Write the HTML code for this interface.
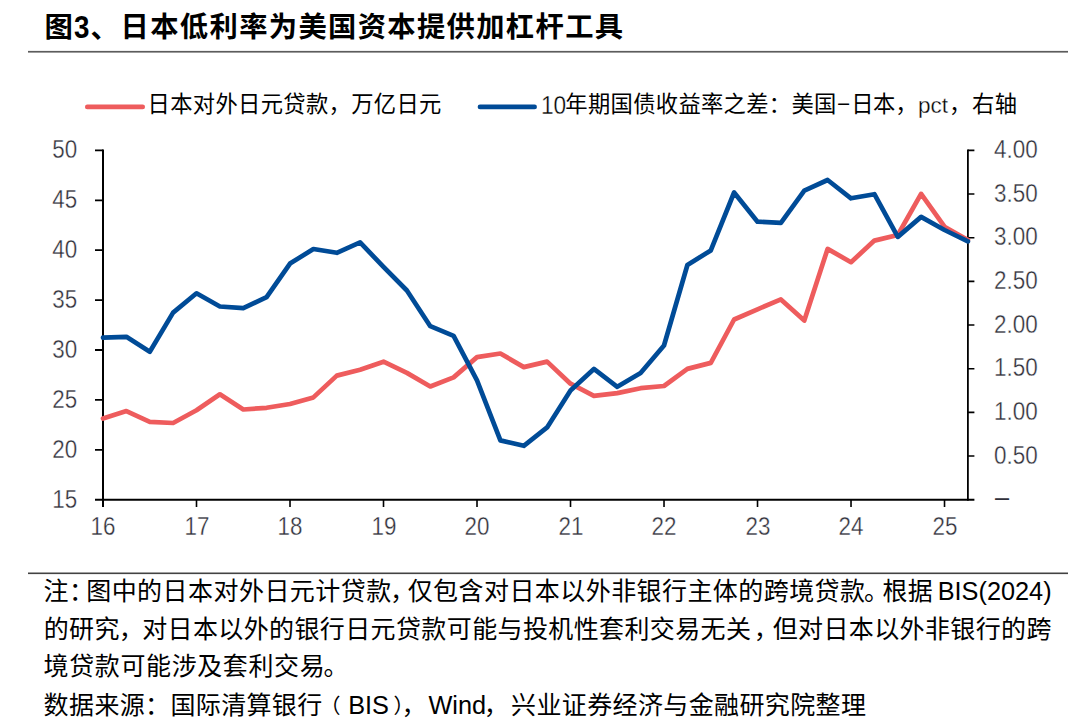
<!DOCTYPE html>
<html lang="zh-CN">
<head>
<meta charset="utf-8">
<title>图3、日本低利率为美国资本提供加杠杆工具</title>
<style>
html,body{margin:0;padding:0;background:#fff}
body{position:relative;width:1080px;height:727px;overflow:hidden;font-family:"Liberation Sans","Noto Sans CJK SC",sans-serif}
svg{position:absolute;left:0;top:0}
.t{position:absolute;white-space:nowrap;line-height:1;margin:0}
.g{color:#000;font-family:"Liberation Sans","Noto Sans CJK SC",sans-serif}
</style>
</head>
<body>
<svg width="1080" height="727" viewBox="0 0 1080 727">
<rect x="28" y="50.9" width="1040" height="1.7" fill="#5c5c5c"/>
<rect x="28" y="572.5" width="1040" height="1.6" fill="#424242"/>
<g stroke="#000" fill="none">
<path d="M103.0 149.4 V507.0" stroke-width="2"/>
<path d="M967.9 149.6 V500.7" stroke-width="1.8"/>
<path d="M95.0 499.7 H974.4" stroke-width="2"/>
<path d="M95.0 150.40H103.0M95.0 200.30H103.0M95.0 250.20H103.0M95.0 300.10H103.0M95.0 350.00H103.0M95.0 399.90H103.0M95.0 449.80H103.0" stroke-width="1.8"/>
<path d="M967.9 150.40H974.4M967.9 194.06H974.4M967.9 237.72H974.4M967.9 281.39H974.4M967.9 325.05H974.4M967.9 368.71H974.4M967.9 412.38H974.4M967.9 456.04H974.4" stroke-width="1.6"/>
<path d="M196.50 499.7V506.9M290.01 499.7V506.9M383.51 499.7V506.9M477.01 499.7V506.9M570.51 499.7V506.9M664.02 499.7V506.9M757.52 499.7V506.9M851.02 499.7V506.9M944.52 499.7V506.9" stroke-width="1.6"/>
</g>
<polyline points="103.0,418.5 126.4,411.1 149.8,421.9 173.1,423.0 196.5,410.3 219.9,394.3 243.3,409.5 266.6,407.8 290.0,404.0 313.4,397.4 336.8,375.6 360.1,369.8 383.5,361.7 406.9,372.9 430.3,386.5 453.6,377.4 477.0,357.1 500.4,353.5 523.8,367.1 547.1,361.6 570.5,383.7 593.9,395.9 617.3,393.1 640.6,388.2 664.0,386.0 687.4,368.9 710.8,362.9 734.1,319.5 757.5,309.3 780.9,299.4 804.3,320.6 827.6,248.9 851.0,262.2 874.4,240.6 897.8,235.0 921.1,193.9 944.5,226.7 967.9,240.0" fill="none" stroke="#ee5c5d" stroke-width="4.7" stroke-linejoin="round" stroke-linecap="round"/>
<polyline points="103.0,337.6 126.4,336.8 149.8,351.7 173.1,312.6 196.5,293.3 219.9,306.5 243.3,308.2 266.6,297.2 290.0,263.6 313.4,249.0 336.8,252.8 360.1,242.4 383.5,266.9 406.9,290.5 430.3,326.2 453.6,335.9 477.0,380.4 500.4,440.4 523.8,445.8 547.1,427.4 570.5,390.4 593.9,368.9 617.3,386.8 640.6,373.0 664.0,345.5 687.4,265.0 710.8,250.4 734.1,192.5 757.5,221.7 780.9,222.8 804.3,190.6 827.6,180.0 851.0,198.3 874.4,194.2 897.8,236.9 921.1,216.9 944.5,230.0 967.9,241.4" fill="none" stroke="#004b97" stroke-width="4.7" stroke-linejoin="round" stroke-linecap="round"/>
<path d="M87.3 106.9H142.7" stroke="#ee5c5d" stroke-width="4.7" stroke-linecap="round"/>
<path d="M480 106.9H534.6" stroke="#004b97" stroke-width="4.7" stroke-linecap="round"/>
</svg>
<!-- axis tick labels -->
<div class="t" style="top:137.48px;font-size:25.30px;color:#30303a;transform:scaleX(0.885);transform-origin:right center;right:1003.20px;-webkit-text-stroke:0.35px #fff;">50</div>
<div class="t" style="top:187.38px;font-size:25.30px;color:#30303a;transform:scaleX(0.885);transform-origin:right center;right:1003.20px;-webkit-text-stroke:0.35px #fff;">45</div>
<div class="t" style="top:237.28px;font-size:25.30px;color:#30303a;transform:scaleX(0.885);transform-origin:right center;right:1003.20px;-webkit-text-stroke:0.35px #fff;">40</div>
<div class="t" style="top:287.18px;font-size:25.30px;color:#30303a;transform:scaleX(0.885);transform-origin:right center;right:1003.20px;-webkit-text-stroke:0.35px #fff;">35</div>
<div class="t" style="top:337.08px;font-size:25.30px;color:#30303a;transform:scaleX(0.885);transform-origin:right center;right:1003.20px;-webkit-text-stroke:0.35px #fff;">30</div>
<div class="t" style="top:386.98px;font-size:25.30px;color:#30303a;transform:scaleX(0.885);transform-origin:right center;right:1003.20px;-webkit-text-stroke:0.35px #fff;">25</div>
<div class="t" style="top:436.88px;font-size:25.30px;color:#30303a;transform:scaleX(0.885);transform-origin:right center;right:1003.20px;-webkit-text-stroke:0.35px #fff;">20</div>
<div class="t" style="top:486.78px;font-size:25.30px;color:#30303a;transform:scaleX(0.885);transform-origin:right center;right:1003.20px;-webkit-text-stroke:0.35px #fff;">15</div>
<div class="t" style="top:136.88px;font-size:25.30px;color:#30303a;transform:scaleX(0.888);transform-origin:left center;left:993.60px;-webkit-text-stroke:0.35px #fff;">4.00</div>
<div class="t" style="top:180.55px;font-size:25.30px;color:#30303a;transform:scaleX(0.888);transform-origin:left center;left:993.60px;-webkit-text-stroke:0.35px #fff;">3.50</div>
<div class="t" style="top:224.21px;font-size:25.30px;color:#30303a;transform:scaleX(0.888);transform-origin:left center;left:993.60px;-webkit-text-stroke:0.35px #fff;">3.00</div>
<div class="t" style="top:267.87px;font-size:25.30px;color:#30303a;transform:scaleX(0.888);transform-origin:left center;left:993.60px;-webkit-text-stroke:0.35px #fff;">2.50</div>
<div class="t" style="top:311.53px;font-size:25.30px;color:#30303a;transform:scaleX(0.888);transform-origin:left center;left:993.60px;-webkit-text-stroke:0.35px #fff;">2.00</div>
<div class="t" style="top:355.20px;font-size:25.30px;color:#30303a;transform:scaleX(0.888);transform-origin:left center;left:993.60px;-webkit-text-stroke:0.35px #fff;">1.50</div>
<div class="t" style="top:398.86px;font-size:25.30px;color:#30303a;transform:scaleX(0.888);transform-origin:left center;left:993.60px;-webkit-text-stroke:0.35px #fff;">1.00</div>
<div class="t" style="top:442.52px;font-size:25.30px;color:#30303a;transform:scaleX(0.888);transform-origin:left center;left:993.60px;-webkit-text-stroke:0.35px #fff;">0.50</div>
<div class="t" style="top:484.58px;font-size:25.30px;color:#30303a;left:995.00px;">–</div>
<div class="t" style="top:513.98px;font-size:25.30px;color:#30303a;transform:scaleX(0.885);transform-origin:center center;left:3.00px;width:200px;text-align:center;-webkit-text-stroke:0.35px #fff;">16</div>
<div class="t" style="top:513.98px;font-size:25.30px;color:#30303a;transform:scaleX(0.885);transform-origin:center center;left:96.50px;width:200px;text-align:center;-webkit-text-stroke:0.35px #fff;">17</div>
<div class="t" style="top:513.98px;font-size:25.30px;color:#30303a;transform:scaleX(0.885);transform-origin:center center;left:190.01px;width:200px;text-align:center;-webkit-text-stroke:0.35px #fff;">18</div>
<div class="t" style="top:513.98px;font-size:25.30px;color:#30303a;transform:scaleX(0.885);transform-origin:center center;left:283.51px;width:200px;text-align:center;-webkit-text-stroke:0.35px #fff;">19</div>
<div class="t" style="top:513.98px;font-size:25.30px;color:#30303a;transform:scaleX(0.885);transform-origin:center center;left:377.01px;width:200px;text-align:center;-webkit-text-stroke:0.35px #fff;">20</div>
<div class="t" style="top:513.98px;font-size:25.30px;color:#30303a;transform:scaleX(0.885);transform-origin:center center;left:470.51px;width:200px;text-align:center;-webkit-text-stroke:0.35px #fff;">21</div>
<div class="t" style="top:513.98px;font-size:25.30px;color:#30303a;transform:scaleX(0.885);transform-origin:center center;left:564.02px;width:200px;text-align:center;-webkit-text-stroke:0.35px #fff;">22</div>
<div class="t" style="top:513.98px;font-size:25.30px;color:#30303a;transform:scaleX(0.885);transform-origin:center center;left:657.52px;width:200px;text-align:center;-webkit-text-stroke:0.35px #fff;">23</div>
<div class="t" style="top:513.98px;font-size:25.30px;color:#30303a;transform:scaleX(0.885);transform-origin:center center;left:751.02px;width:200px;text-align:center;-webkit-text-stroke:0.35px #fff;">24</div>
<div class="t" style="top:513.98px;font-size:25.30px;color:#30303a;transform:scaleX(0.885);transform-origin:center center;left:844.52px;width:200px;text-align:center;-webkit-text-stroke:0.35px #fff;">25</div>
<!-- title -->
<div class="t g" style="left:44.4px;top:13.0px;font-size:28.4px;letter-spacing:-0.20px;font-weight:bold">图</div>
<div class="t" style="top:11.76px;font-size:31.00px;color:#000;font-weight:bold;transform:scaleX(0.895);transform-origin:left center;left:73.70px;">3</div>
<div class="t g" style="left:90.4px;top:15.0px;font-size:28.0px;letter-spacing:1.40px;font-weight:bold">、</div>
<div class="t g" style="left:120.6px;top:13.0px;font-size:28.3px;letter-spacing:1.34px;font-weight:bold">日本低利率为美国资本提供加杠杆工具</div>
<!-- legend -->
<div class="t g" style="left:147.6px;top:93.8px;font-size:22.3px;letter-spacing:0.33px">日本对外日元贷款，万亿日元</div>
<div class="t" style="top:92.64px;font-size:25.00px;color:#000;transform:scaleX(0.905);transform-origin:left center;left:541.40px;-webkit-text-stroke:0.35px #fff;">10</div>
<div class="t g" style="left:565.3px;top:93.8px;font-size:22.3px;letter-spacing:0.32px">年期国债收益率之差</div>
<div class="t g" style="left:768.8px;top:94px;font-size:22px">：</div>
<div class="t g" style="left:791.5px;top:93.8px;font-size:22.3px;letter-spacing:0.32px">美国</div>
<div class="t" style="top:94.27px;font-size:22.60px;color:#000;left:837.00px;">−</div>
<div class="t g" style="left:851.3px;top:93.8px;font-size:22.3px;letter-spacing:-0.69px">日本</div>
<div class="t g" style="left:895.3px;top:93.8px;font-size:22.3px;letter-spacing:0.30px">，</div>
<div class="t" style="top:94.77px;font-size:22.60px;color:#000;left:918.00px;-webkit-text-stroke:0.35px #fff;">pct</div>
<div class="t g" style="left:949.0px;top:93.8px;font-size:22.3px;letter-spacing:0.30px">，</div>
<div class="t g" style="left:971.9px;top:93.8px;font-size:22.3px;letter-spacing:0.49px">右轴</div>
<!-- notes and source -->
<div class="t g" style="left:43.5px;top:578.6px;font-size:25.0px;letter-spacing:0.40px">注</div>
<div class="t g" style="left:69px;top:578.6px;font-size:25px">：</div>
<div class="t g" style="left:86.2px;top:578.6px;font-size:25.0px;letter-spacing:0.46px">图中的日本对外日元计贷款</div>
<div class="t g" style="left:390.0px;top:578.6px;font-size:25.0px;letter-spacing:0.40px">，</div>
<div class="t g" style="left:407.7px;top:578.6px;font-size:25.0px;letter-spacing:0.43px">仅包含对日本以外非银行主体的跨境贷款</div>
<div class="t g" style="left:864.0px;top:578.6px;font-size:25.0px;letter-spacing:0.40px">。</div>
<div class="t g" style="left:882.6px;top:578.6px;font-size:25.0px;letter-spacing:0.15px">根据</div>
<div class="t" style="top:578.78px;font-size:25.30px;color:#000;left:937.70px;">BIS(2024)</div>
<div class="t g" style="left:43.7px;top:616.7px;font-size:25.0px;letter-spacing:0.40px">的研究</div>
<div class="t g" style="left:118.7px;top:616.7px;font-size:25.0px;letter-spacing:0.40px">，</div>
<div class="t g" style="left:142.2px;top:616.7px;font-size:25.0px;letter-spacing:0.38px">对日本以外的银行日元贷款可能与投机性套利交易无关</div>
<div class="t g" style="left:753.7px;top:616.7px;font-size:25.0px;letter-spacing:0.40px">，</div>
<div class="t g" style="left:772.7px;top:616.7px;font-size:25.0px;letter-spacing:0.38px">但对日本以外非银行的跨</div>
<div class="t g" style="left:43.6px;top:654.4px;font-size:25.0px;letter-spacing:0.61px">境贷款可能涉及套利交易</div>
<div class="t g" style="left:323.5px;top:654.4px;font-size:25.0px;letter-spacing:0.40px">。</div>
<div class="t g" style="left:43.6px;top:692.6px;font-size:25.0px;letter-spacing:0.40px">数据来源</div>
<div class="t g" style="left:145px;top:692.6px;font-size:25px">：</div>
<div class="t g" style="left:170.5px;top:692.6px;font-size:25.0px;letter-spacing:0.34px">国际清算银行</div>
<div class="t g" style="left:320.1px;top:695.6px;font-size:20.5px;letter-spacing:4.90px">（</div>
<div class="t" style="top:692.88px;font-size:25.30px;color:#000;left:348.20px;">BIS</div>
<div class="t g" style="left:393.5px;top:695.6px;font-size:20.5px;letter-spacing:4.90px">）</div>
<div class="t g" style="left:401.6px;top:692.6px;font-size:25.0px;letter-spacing:0.40px">，</div>
<div class="t" style="top:692.88px;font-size:25.30px;color:#000;left:428.40px;">Wind</div>
<div class="t g" style="left:483.7px;top:692.6px;font-size:25.0px;letter-spacing:0.40px">，</div>
<div class="t g" style="left:511.0px;top:692.6px;font-size:25.0px;letter-spacing:0.38px">兴业证券经济与金融研究院整理</div>
</body>
</html>
